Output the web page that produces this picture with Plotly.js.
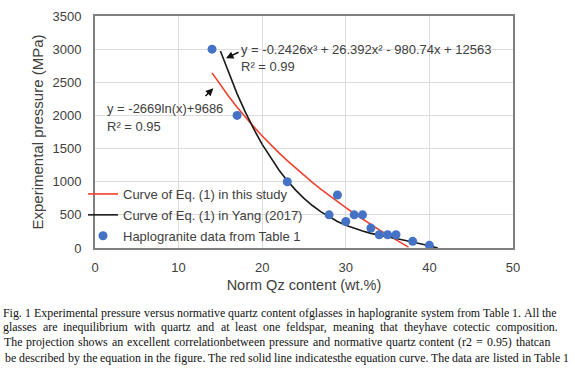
<!DOCTYPE html>
<html><head><meta charset="utf-8">
<script src="https://cdn.plot.ly/plotly-3.0.1.min.js"></script>
<style>html,body{margin:0;padding:0;background:#fff;}#chart{width:575px;height:368px;}</style>
</head><body><div id="chart"></div>
<script>
// ---- data ----
const qz = [14, 17, 23, 29, 28, 30, 31, 32, 33, 34, 35, 36, 38, 40];
const pressure = [3000, 2000, 1000, 800, 500, 400, 500, 500, 300, 200, 200, 200, 100, 40];

// red curve: y = -2669ln(x)+9686
const redX = [14, 15, 16, 17, 18, 19, 20, 21, 22, 23, 24, 25, 26, 27, 28, 29, 30, 31, 32, 33, 34, 35, 36, 37, 37.5];
const redY = [2642, 2458, 2286, 2124, 1972, 1827, 1690, 1560, 1436, 1317, 1204, 1095, 990, 889, 792, 699, 608, 521, 436, 354, 274, 197, 122, 49, 13];

// black curve: y = -0.2426x3 + 26.392x2 - 980.74x + 12563
const blackX = [15, 16, 17, 18, 19, 20, 21, 22, 23, 24, 25, 26, 27, 28, 29, 30, 31, 32, 33, 34, 35, 36, 37, 38, 39, 40, 41];
const blackY = [2971, 2634, 2326, 2046, 1792, 1564, 1360, 1177, 1016, 873, 749, 641, 548, 468, 400, 343, 296, 255, 221, 192, 166, 142, 118, 93, 66, 34, -2];

const legendNames = ["Curve of Eq. (1) in this study", "Curve of Eq. (1) in Yang (2017)", "Haplogranite data from Table 1"];
const xTitle = "Norm Qz content (wt.%)";
const yTitle = "Experimental pressure (MPa)";
const eqCubic = "y = -0.2426x³ + 26.392x² - 980.74x + 12563";
const r2Cubic = "R² = 0.99";
const eqLog = "y = -2669ln(x)+9686";
const r2Log = "R² = 0.95";
const captionLines = [
  "Fig. 1 Experimental pressure versus normative quartz content ofglasses in haplogranite system from Table 1. All the",
  "glasses are inequilibrium with quartz and at least one feldspar, meaning that theyhave cotectic composition.",
  "The projection shows an excellent correlationbetween pressure and normative quartz content (r2 = 0.95) thatcan",
  "be described by the equation in the figure. The red solid line indicatesthe equation curve. The data are listed in Table 1"
];

// ---- layout helpers ----
const W = 575, H = 368;
const M = {l: 95, r: 62, t: 16, b: 120};
const PW = W - M.l - M.r, PH = H - M.t - M.b;
const XR = [0, 50], YR = [0, 3500];
const pxToX = px => XR[0] + (px - M.l) / PW * (XR[1] - XR[0]);
const pyToY = py => YR[0] + (H - M.b - py) / PH * (YR[1] - YR[0]);
const pxToPaper = px => (px - M.l) / PW;
const pyToPaper = py => (H - M.b - py) / PH;

const txt = '#404040';
const sans = 'Liberation Sans, Arial, sans-serif';

const traces = [
  {x: redX, y: redY, mode: 'lines', name: legendNames[0], line: {color: '#f0412f', width: 1.6}, legendgroup: 'a'},
  {x: blackX, y: blackY, mode: 'lines', name: legendNames[1], line: {color: '#1a1a1a', width: 1.6}, legendgroup: 'b'},
  {x: qz, y: pressure, mode: 'markers', name: legendNames[2], marker: {color: '#4472c4', size: 9}, legendgroup: 'c'}
];

const annotations = [];
function textAnn(t, px, py, size, font, color) {
  annotations.push({text: t, xref: 'x', yref: 'y', x: pxToX(px), y: pyToY(py), xanchor: 'left', yanchor: 'middle',
    showarrow: false, borderpad: 0, borderwidth: 0, font: {family: font || sans, size: size || 13, color: color || txt}});
}
textAnn(eqCubic, 241, 49.3);
textAnn(r2Cubic, 241, 66);
textAnn(eqLog, 106.5, 108.3);
textAnn(r2Log, 106.5, 126.7);
function arrowAnn(hx, hy, tx, ty) {
  annotations.push({text: '', xref: 'x', yref: 'y', x: pxToX(hx), y: pyToY(hy), ax: tx - hx, ay: ty - hy,
    showarrow: true, arrowhead: 2, arrowsize: 1, arrowwidth: 1.5, arrowcolor: '#111', standoff: 0, startstandoff: 0});
}
arrowAnn(226, 58.3, 240, 51.5);
arrowAnn(213.3, 88.3, 204, 97.5);

// caption, justified between measured left/right edges
const capStart = [3, 3, 3.5, 5], capEnd = [557, 558, 550, 569], capY = [312.7, 327, 342.3, 357.5];
const serif = 'Liberation Serif';
const cv = document.createElement('canvas').getContext('2d');
let capSize = 11;
cv.font = capSize + 'px "' + serif + '"';
const natural4 = cv.measureText(captionLines[3]).width;
capSize = Math.max(9, Math.min(13, capSize * (capEnd[3] - capStart[3]) / natural4));
cv.font = capSize + 'px "' + serif + '"';
captionLines.forEach((line, i) => {
  const words = line.split(' ');
  const ws = words.map(w => cv.measureText(w).width);
  const total = ws.reduce((a, b) => a + b, 0);
  const gap = Math.max(1.5, (capEnd[i] - capStart[i] - total) / (words.length - 1));
  let x = capStart[i];
  words.forEach((w, k) => {
    annotations.push({text: w, xref: 'paper', yref: 'paper', x: pxToPaper(x), y: pyToPaper(capY[i]),
      xanchor: 'left', yanchor: 'middle', showarrow: false, borderpad: 0, borderwidth: 0,
      font: {family: serif + ', Times New Roman, serif', size: capSize, color: '#111'}});
    x += ws[k] + gap;
  });
});

const shapes = [{type: 'rect', xref: 'paper', yref: 'paper', layer: 'between',
  x0: pxToPaper(96.5), x1: pxToPaper(292), y0: pyToPaper(246.5), y1: pyToPaper(186.5),
  fillcolor: '#ffffff', line: {width: 0}}];

const axisCommon = {showgrid: true, gridcolor: '#dcdcdc', gridwidth: 1, zeroline: false, showline: true, mirror: true,
  linecolor: '#808080', linewidth: 2, ticks: '', tickfont: {family: sans, size: 13, color: txt}};

const layout = {
  width: W, height: H, margin: M, paper_bgcolor: '#fff', plot_bgcolor: '#fff',
  showlegend: true,
  legend: {x: pxToPaper(83), xanchor: 'left', y: pyToPaper(179), yanchor: 'top', bgcolor: 'rgba(0,0,0,0)',
    borderwidth: 0, font: {family: sans, size: 13, color: txt}, traceorder: 'grouped', tracegroupgap: 1, itemwidth: 30},
  xaxis: Object.assign({}, axisCommon, {range: XR, dtick: 10, tick0: 0, ticklabelstandoff: 6,
    title: {text: xTitle, font: {family: sans, size: 14.5, color: txt}, standoff: 6}}),
  yaxis: Object.assign({}, axisCommon, {range: YR, dtick: 500, tick0: 0, ticklabelstandoff: 9,
    title: {text: yTitle, font: {family: sans, size: 15, color: txt}, standoff: 5}}),
  annotations: annotations, shapes: shapes
};

Plotly.newPlot('chart', traces, layout, {staticPlot: true, displayModeBar: false});
</script></body></html>
